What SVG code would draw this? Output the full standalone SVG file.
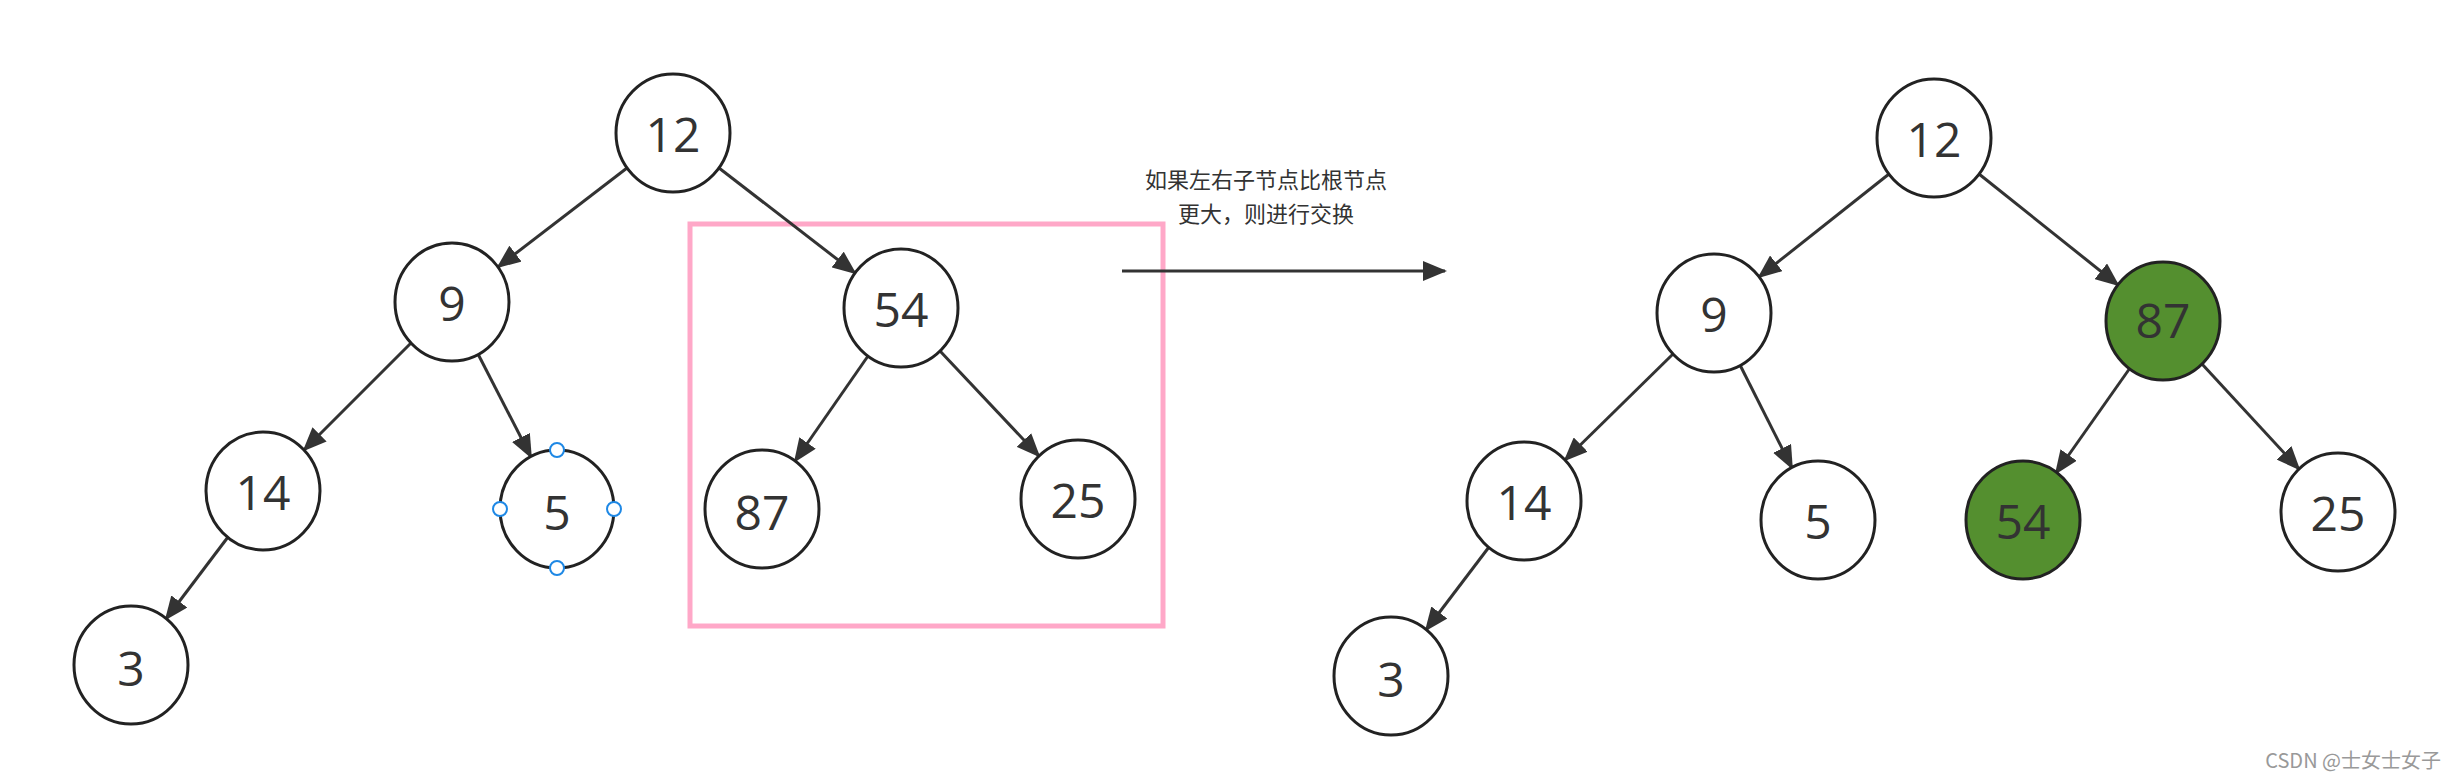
<svg xmlns="http://www.w3.org/2000/svg" width="2454" height="780" viewBox="0 0 2454 780">
<style>
.n ellipse{fill:#fff;stroke:#222;stroke-width:3}
.g ellipse{fill:#548f2f}
.n text{font-family:"Open Sans","Noto Sans",sans-serif;font-size:48px;fill:#333;text-anchor:middle;dominant-baseline:central}
.e line{stroke:#333;stroke-width:3;marker-end:url(#a)}
.h{fill:#fff;stroke:#1e88e5;stroke-width:2}
.t{font-family:"Noto Sans CJK SC",sans-serif;font-size:22px;fill:#333;text-anchor:middle}
</style>
<defs><marker id="a" markerUnits="userSpaceOnUse" markerWidth="24" markerHeight="20" refX="22" refY="10" orient="auto"><path d="M0,0L24,10L0,20z" fill="#333"/></marker></defs>
<rect width="2454" height="780" fill="#fff"/>
<rect x="690" y="224" width="473" height="402" fill="none" stroke="#ffa8c8" stroke-width="5"/>
<g class="e" id="edges">
<line x1="627" y1="168" x2="498" y2="267"/>
<line x1="719" y1="168" x2="855" y2="273"/>
<line x1="411" y1="343" x2="304" y2="450"/>
<line x1="478" y1="354" x2="531" y2="457"/>
<line x1="228" y1="537" x2="166" y2="619"/>
<line x1="868" y1="356" x2="795" y2="461"/>
<line x1="940" y1="351" x2="1039" y2="456"/>
<line x1="1889" y1="174" x2="1759" y2="277"/>
<line x1="1979" y1="174" x2="2118" y2="285"/>
<line x1="1673" y1="354" x2="1565" y2="460"/>
<line x1="1740" y1="365" x2="1792" y2="468"/>
<line x1="1489" y1="547" x2="1426" y2="630"/>
<line x1="2130" y1="368" x2="2056" y2="473"/>
<line x1="2202" y1="364" x2="2299" y2="469"/>
<line x1="1122" y1="271" x2="1445" y2="271"/>
</g>
<text class="t" x="1266" y="188">如果左右子节点比根节点</text>
<text class="t" x="1266" y="222">更大，则进行交换</text>
<g class="n" id="L12"><ellipse cx="673" cy="133" rx="57" ry="59"/><text x="673" y="133">12</text></g>
<g class="n" id="L9"><ellipse cx="452" cy="302" rx="57" ry="59"/><text x="452" y="302">9</text></g>
<g class="n" id="L54"><ellipse cx="901" cy="308" rx="57" ry="59"/><text x="901" y="308">54</text></g>
<g class="n" id="L14"><ellipse cx="263" cy="491" rx="57" ry="59"/><text x="263" y="491">14</text></g>
<g class="n" id="L5"><ellipse cx="557" cy="509" rx="57" ry="59"/><text x="557" y="511">5</text>
<circle class="h" cx="557" cy="450" r="7"/><circle class="h" cx="557" cy="568" r="7"/><circle class="h" cx="500" cy="509" r="7"/><circle class="h" cx="614" cy="509" r="7"/></g>
<g class="n" id="L87"><ellipse cx="762" cy="509" rx="57" ry="59"/><text x="762" y="511">87</text></g>
<g class="n" id="L25"><ellipse cx="1078" cy="499" rx="57" ry="59"/><text x="1078" y="499">25</text></g>
<g class="n" id="L3"><ellipse cx="131" cy="665" rx="57" ry="59"/><text x="131" y="667">3</text></g>
<g class="n" id="R12"><ellipse cx="1934" cy="138" rx="57" ry="59"/><text x="1934" y="138">12</text></g>
<g class="n" id="R9"><ellipse cx="1714" cy="313" rx="57" ry="59"/><text x="1714" y="313">9</text></g>
<g class="n g" id="R87"><ellipse cx="2163" cy="321" rx="57" ry="59"/><text x="2163" y="319">87</text></g>
<g class="n" id="R14"><ellipse cx="1524" cy="501" rx="57" ry="59"/><text x="1524" y="501">14</text></g>
<g class="n" id="R5"><ellipse cx="1818" cy="520" rx="57" ry="59"/><text x="1818" y="520">5</text></g>
<g class="n g" id="R54"><ellipse cx="2023" cy="520" rx="57" ry="59"/><text x="2023" y="520">54</text></g>
<g class="n" id="R25"><ellipse cx="2338" cy="512" rx="57" ry="59"/><text x="2338" y="512">25</text></g>
<g class="n" id="R3"><ellipse cx="1391" cy="676" rx="57" ry="59"/><text x="1391" y="678">3</text></g>
<text x="2441" y="768" font-family="Noto Sans CJK SC,sans-serif" font-size="20" fill="#999" text-anchor="end">CSDN @士女士女子</text>
</svg>
